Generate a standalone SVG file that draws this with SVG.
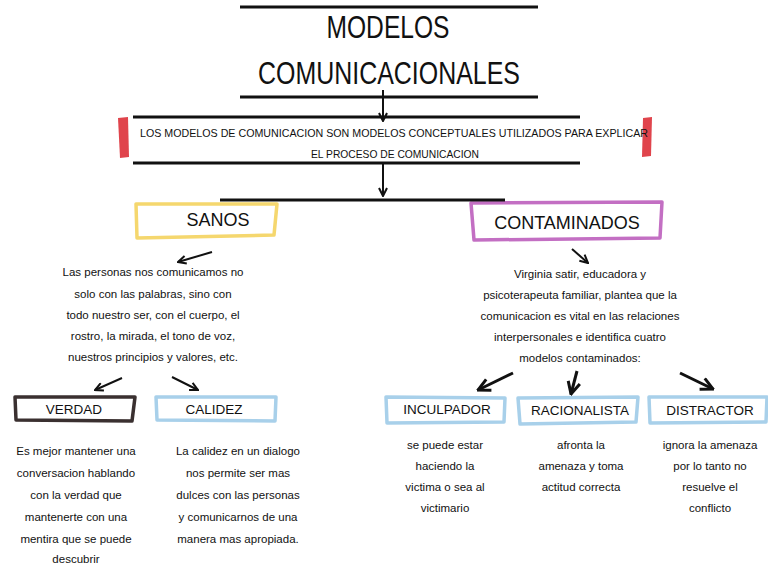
<svg xmlns="http://www.w3.org/2000/svg" width="768" height="576" viewBox="0 0 768 576">
<defs>
<marker id="ah" viewBox="0 0 10 10" refX="9" refY="5" markerWidth="5" markerHeight="5" orient="auto"><path d="M1,1 L9,5 L1,9" fill="none" stroke="#111" stroke-width="2"/></marker>
<style>
text{font-family:"Liberation Sans",Arial,sans-serif;fill:#111;text-anchor:middle}
.p{font-size:11.5px}
.h{font-size:18px}
.s{font-size:13.5px}
.c line{stroke:#111;stroke-width:2;marker-end:url(#ah)}
.bx{fill:none;stroke-width:3.5;stroke-linejoin:round}
</style>
</defs>
<rect width="768" height="576" fill="#fff"/>
<g id="title">
<line x1="240" y1="7" x2="538" y2="7" stroke="#111" stroke-width="3"/>
<line x1="240" y1="97" x2="538" y2="97" stroke="#111" stroke-width="3"/>
<text x="388" y="38" font-size="31" textLength="123" lengthAdjust="spacingAndGlyphs">MODELOS</text>
<text x="389" y="84" font-size="31" textLength="262" lengthAdjust="spacingAndGlyphs">COMUNICACIONALES</text>
</g>
<g id="definition">
<line x1="133" y1="117" x2="580" y2="117" stroke="#111" stroke-width="3"/>
<line x1="133" y1="163" x2="580" y2="163" stroke="#111" stroke-width="3"/>
<polygon points="118,118 128,117 129,157 120,158" fill="#e0444c"/>
<polygon points="643,118 652,117 651,156 642,157" fill="#e0444c"/>
<text class="p" x="394" y="137" textLength="508" lengthAdjust="spacingAndGlyphs">LOS MODELOS DE COMUNICACION SON MODELOS CONCEPTUALES UTILIZADOS PARA EXPLICAR</text>
<text class="p" x="395" y="158" textLength="168" lengthAdjust="spacingAndGlyphs">EL PROCESO DE COMUNICACION</text>
</g>
<g id="sanos">
<path class="bx" stroke="#f5d76e" d="M136,204 L277,204 L274,235 L137,238 Z"/>
<text class="h" x="218" y="226">SANOS</text>
<text class="p" x="153" y="276">Las personas nos comunicamos no</text>
<text class="p" x="153" y="298">solo con las palabras, sino con</text>
<text class="p" x="153" y="319">todo nuestro ser, con el cuerpo, el</text>
<text class="p" x="153" y="340">rostro, la mirada, el tono de voz,</text>
<text class="p" x="153" y="361">nuestros principios y valores, etc.</text>
</g>
<g id="contaminados">
<path class="bx" stroke="#c36fc3" d="M471,203 L662,202 L660,238 L474,240 Z"/>
<text class="h" x="567" y="229">CONTAMINADOS</text>
<text class="p" x="580" y="278">Virginia satir, educadora y</text>
<text class="p" x="580" y="299">psicoterapeuta familiar, plantea que la</text>
<text class="p" x="580" y="320">comunicacion es vital en las relaciones</text>
<text class="p" x="580" y="341">interpersonales e identifica cuatro</text>
<text class="p" x="580" y="362">modelos contaminados:</text>
</g>
<g id="verdad">
<path class="bx" stroke="#3a3030" d="M15,397 L135,397 L132,421 L16,420 Z"/>
<text class="s" x="74" y="414">VERDAD</text>
<text class="p" x="76" y="455">Es mejor mantener una</text>
<text class="p" x="76" y="477">conversacion hablando</text>
<text class="p" x="76" y="499">con la verdad que</text>
<text class="p" x="76" y="521">mantenerte con una</text>
<text class="p" x="76" y="543">mentira que se puede</text>
<text class="p" x="76" y="563">descubrir</text>
</g>
<g id="calidez">
<path class="bx" stroke="#a8d0ea" d="M156,397 L276,397 L275,421 L157,420 Z"/>
<text class="s" x="214" y="414">CALIDEZ</text>
<text class="p" x="238" y="455">La calidez en un dialogo</text>
<text class="p" x="238" y="477">nos permite ser mas</text>
<text class="p" x="238" y="499">dulces con las personas</text>
<text class="p" x="238" y="521">y comunicarnos de una</text>
<text class="p" x="238" y="543">manera mas apropiada.</text>
</g>
<g id="inculpador">
<path class="bx" stroke="#a8d0ea" d="M386,397 L505,398 L504,422 L387,423 Z"/>
<text class="s" x="447" y="414">INCULPADOR</text>
<text class="p" x="445" y="449">se puede estar</text>
<text class="p" x="445" y="470">haciendo la</text>
<text class="p" x="445" y="491">victima o sea al</text>
<text class="p" x="445" y="512">victimario</text>
</g>
<g id="racionalista">
<path class="bx" stroke="#a8d0ea" d="M518,398 L638,397 L636,422 L520,424 Z"/>
<text class="s" x="580" y="415">RACIONALISTA</text>
<text class="p" x="581" y="449">afronta la</text>
<text class="p" x="581" y="470">amenaza y toma</text>
<text class="p" x="581" y="491">actitud correcta</text>
</g>
<g id="distractor">
<path class="bx" stroke="#a8d0ea" d="M649,397 L767,397 L766,422 L650,423 Z"/>
<text class="s" x="710" y="415">DISTRACTOR</text>
<text class="p" x="710" y="449">ignora la amenaza</text>
<text class="p" x="710" y="470">por lo tanto no</text>
<text class="p" x="710" y="491">resuelve el</text>
<text class="p" x="710" y="512">conflicto</text>
</g>
<g id="connectors" class="c">
<line x1="383" y1="90" x2="383" y2="121"/>
<line x1="383" y1="163" x2="383" y2="196"/>
<line x1="220" y1="200" x2="505" y2="200" style="marker-end:none;stroke-width:3"/>
<line x1="212" y1="252" x2="178" y2="262"/>
<line x1="572" y1="249" x2="588" y2="263"/>
<line x1="122" y1="378" x2="95" y2="390"/>
<line x1="172" y1="377" x2="198" y2="390"/>
<line x1="513" y1="373" x2="478" y2="390" style="stroke-width:3"/>
<line x1="577" y1="371" x2="571" y2="394" style="stroke-width:3"/>
<line x1="680" y1="373" x2="713" y2="389" style="stroke-width:3"/>
</g>
</svg>
